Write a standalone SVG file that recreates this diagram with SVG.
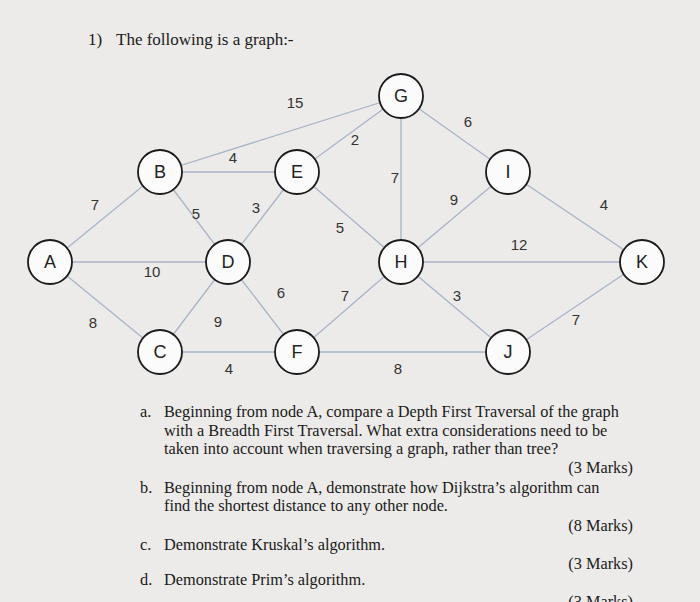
<svg xmlns="http://www.w3.org/2000/svg" width="700" height="602" viewBox="0 0 700 602">
<style>
.e{stroke:#a9b3c8;stroke-width:1.3;fill:none}
.n circle{fill:#fbfbfb;stroke:#1a1a1a;stroke-width:1.8}
.n text{font-family:"Liberation Sans",Arial,sans-serif;font-size:18px;fill:#222;text-anchor:middle;dominant-baseline:central}
.w{font-family:"Liberation Sans",Arial,sans-serif;font-size:15px;fill:#333;text-anchor:middle}
.q{font-family:"Liberation Serif","Times New Roman",serif;font-size:16.3px;fill:#1a1a1a}
.r{text-anchor:end}
</style>
<rect width="700" height="602" fill="#ecebe9"/>
<text class="q" x="88" y="45" style="font-size:17px">1)</text>
<text class="q" x="116" y="45" style="font-size:17px">The following is a graph:-</text>
<g id="connectors">
<line class="e" x1="50" y1="262" x2="160" y2="172"/>
<line class="e" x1="50" y1="262" x2="228" y2="262"/>
<line class="e" x1="50" y1="262" x2="160" y2="352"/>
<line class="e" x1="160" y1="172" x2="297" y2="172"/>
<line class="e" x1="160" y1="172" x2="228" y2="262"/>
<line class="e" x1="228" y1="262" x2="297" y2="172"/>
<line class="e" x1="160" y1="172" x2="401" y2="96"/>
<line class="e" x1="297" y1="172" x2="401" y2="96"/>
<line class="e" x1="401" y1="96" x2="401" y2="262"/>
<line class="e" x1="401" y1="96" x2="508" y2="172"/>
<line class="e" x1="297" y1="172" x2="401" y2="262"/>
<line class="e" x1="228" y1="262" x2="297" y2="352"/>
<line class="e" x1="228" y1="262" x2="160" y2="352"/>
<line class="e" x1="160" y1="352" x2="297" y2="352"/>
<line class="e" x1="297" y1="352" x2="401" y2="262"/>
<line class="e" x1="297" y1="352" x2="508" y2="352"/>
<line class="e" x1="401" y1="262" x2="508" y2="172"/>
<line class="e" x1="401" y1="262" x2="642" y2="262"/>
<line class="e" x1="401" y1="262" x2="508" y2="352"/>
<line class="e" x1="508" y1="172" x2="642" y2="262"/>
<line class="e" x1="508" y1="352" x2="642" y2="262"/>
</g>
<g id="weights">
<text class="w" x="95" y="210">7</text>
<text class="w" x="152" y="277">10</text>
<text class="w" x="93" y="328">8</text>
<text class="w" x="233" y="163">4</text>
<text class="w" x="196" y="219">5</text>
<text class="w" x="256" y="213">3</text>
<text class="w" x="295" y="108">15</text>
<text class="w" x="355" y="145">2</text>
<text class="w" x="395" y="183">7</text>
<text class="w" x="468" y="127">6</text>
<text class="w" x="340" y="233">5</text>
<text class="w" x="454" y="205">9</text>
<text class="w" x="604" y="210">4</text>
<text class="w" x="519" y="250">12</text>
<text class="w" x="281" y="298">6</text>
<text class="w" x="345" y="301">7</text>
<text class="w" x="218" y="327">9</text>
<text class="w" x="457" y="301">3</text>
<text class="w" x="576" y="325">7</text>
<text class="w" x="229" y="374">4</text>
<text class="w" x="398" y="374">8</text>
</g>
<g id="A" class="n"><circle cx="50" cy="262" r="22"/><text x="50" y="262">A</text></g>
<g id="B" class="n"><circle cx="160" cy="172" r="22"/><text x="160" y="172">B</text></g>
<g id="C" class="n"><circle cx="160" cy="352" r="22"/><text x="160" y="352">C</text></g>
<g id="D" class="n"><circle cx="228" cy="262" r="22"/><text x="228" y="262">D</text></g>
<g id="E" class="n"><circle cx="297" cy="172" r="22"/><text x="297" y="172">E</text></g>
<g id="F" class="n"><circle cx="297" cy="352" r="22"/><text x="297" y="352">F</text></g>
<g id="G" class="n"><circle cx="401" cy="96" r="22"/><text x="401" y="96">G</text></g>
<g id="H" class="n"><circle cx="401" cy="262" r="22"/><text x="401" y="262">H</text></g>
<g id="I" class="n"><circle cx="508" cy="172" r="22"/><text x="508" y="172">I</text></g>
<g id="J" class="n"><circle cx="508" cy="352" r="22"/><text x="508" y="352">J</text></g>
<g id="K" class="n"><circle cx="642" cy="262" r="22"/><text x="642" y="262">K</text></g>
<g id="questions">
<text class="q" x="140" y="417">a.</text>
<text class="q" x="164" y="417">Beginning from node A, compare a Depth First Traversal of the graph</text>
<text class="q" x="164" y="436">with a Breadth First Traversal. What extra considerations need to be</text>
<text class="q" x="164" y="454">taken into account when traversing a graph, rather than tree?</text>
<text class="q r" x="633" y="473">(3 Marks)</text>
<text class="q" x="140" y="493">b.</text>
<text class="q" x="164" y="493">Beginning from node A, demonstrate how Dijkstra’s algorithm can</text>
<text class="q" x="164" y="511">find the shortest distance to any other node.</text>
<text class="q r" x="633" y="531">(8 Marks)</text>
<text class="q" x="140" y="550">c.</text>
<text class="q" x="164" y="550">Demonstrate Kruskal’s algorithm.</text>
<text class="q r" x="633" y="569">(3 Marks)</text>
<text class="q" x="140" y="585">d.</text>
<text class="q" x="164" y="585">Demonstrate Prim’s algorithm.</text>
<text class="q r" x="633" y="607">(3 Marks)</text>
</g>
</svg>
